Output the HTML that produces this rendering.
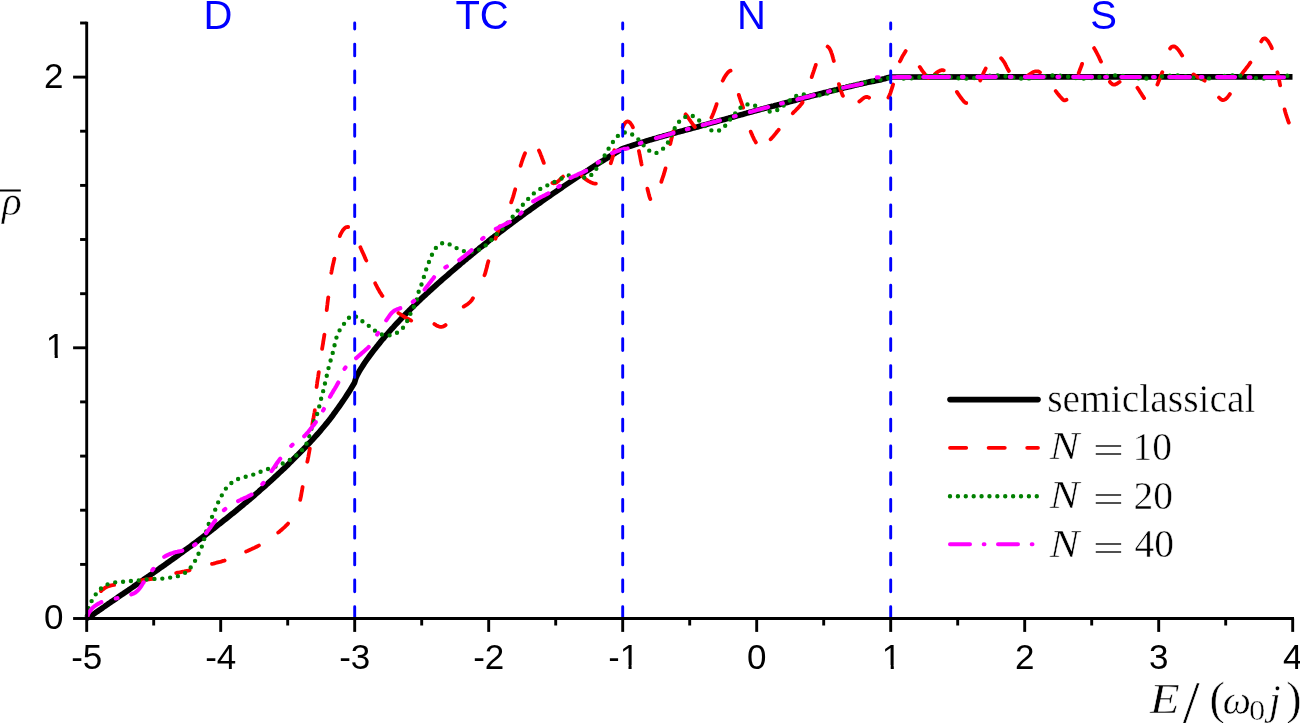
<!DOCTYPE html>
<html><head><meta charset="utf-8"><title>plot</title>
<style>html,body{margin:0;padding:0;background:#fff;width:1300px;height:723px;overflow:hidden}svg{display:block}</style>
</head><body>
<svg width="1300" height="723" viewBox="0 0 1300 723">
<rect width="1300" height="723" fill="#fff"/>
<path d="M86.6 618.4L88.1 617.5L89.6 616.7L91.1 615.8L92.6 614.9L94.1 613.8L95.6 612.7L97.1 611.7L98.6 610.6L100.1 609.6L101.6 608.6L103.1 607.5L104.6 606.5L106.1 605.4L107.6 604.4L109 603.4L110.5 602.4L112 601.3L113.5 600.3L115 599.3L116.5 598.3L118 597.2L119.5 596.2L121 595.2L122.5 594.2L124 593.1L125.5 592.1L127 591.1L128.5 590.1L130 589L131.5 588L133 587L134.5 585.9L136 584.9L137.5 583.9L139 582.9L140.5 581.8L142 580.8L143.5 579.7L145 578.7L146.5 577.7L148 576.6L149.5 575.6L151 574.5L152.5 573.5L153.9 572.4L155.4 571.4L156.9 570.3L158.4 569.3L159.9 568.2L161.4 567.2L162.9 566.1L164.4 565.1L165.9 564L167.4 562.9L168.9 561.9L170.4 560.8L171.9 559.7L173.4 558.6L174.9 557.6L176.4 556.5L177.9 555.4L179.4 554.3L180.9 553.2L182.4 552.1L183.9 551L185.4 549.9L186.9 548.9L188.4 547.8L189.9 546.7L191.4 545.6L192.9 544.4L194.4 543.3L195.9 542.2L197.4 541.1L198.8 540L200.3 538.9L201.8 537.7L203.3 536.6L204.8 535.4L206.3 534.2L207.8 533.1L209.3 531.9L210.8 530.7L212.3 529.6L213.8 528.4L215.3 527.2L216.8 526L218.3 524.8L219.8 523.7L221.3 522.5L222.8 521.3L224.3 520.1L225.8 518.9L227.3 517.7L228.8 516.5L230.3 515.3L231.8 514.1L233.3 512.9L234.8 511.7L236.3 510.5L237.8 509.2L239.3 508L240.8 506.8L242.3 505.6L243.7 504.3L245.2 503.1L246.7 501.9L248.2 500.6L249.7 499.4L251.2 498.1L252.7 496.8L254.2 495.5L255.7 494.2L257.2 492.9L258.7 491.6L260.2 490.2L261.7 488.9L263.2 487.6L264.7 486.3L266.2 484.9L267.7 483.6L269.2 482.2L270.7 480.8L272.2 479.5L273.7 478.1L275.2 476.7L276.7 475.3L278.2 473.9L279.7 472.5L281.2 471.1L282.7 469.7L284.2 468.3L285.7 466.9L287.2 465.5L288.6 464L290.1 462.5L291.6 461.1L293.1 459.6L294.6 458.1L296.1 456.6L297.6 455.1L299.1 453.5L300.6 452L302.1 450.5L303.6 449L305.1 447.4L306.6 445.9L308.1 444.3L309.6 442.7L311.1 441.1L312.6 439.5L314.1 437.9L315.6 436.2L317.1 434.5L318.6 432.8L320.1 431.1L321.6 429.3L323.1 427.5L324.6 425.7L326.1 423.9L327.6 422.1L329.1 420.2L330.6 418.3L332.1 416.3L333.5 414.3L335 412.3L336.5 410.2L338 408.1L339.5 406L341 403.9L342.5 401.7L344 399.5L345.5 397.2L347 394.9L348.5 392.6L350 390.2L351.5 387.8L353 385.3L354.5 382.8L356 377.7L357.5 374.5L359 371.8L360.5 369.3L362 366.9L363.5 364.6L365 362.3L366.5 360.2L368 358.1L369.5 356L371 354L372.5 352L374 350.1L375.5 348.2L377 346.3L378.5 344.4L380 342.6L381.4 340.8L382.9 339L384.4 337.3L385.9 335.5L387.4 333.8L388.9 332.1L390.4 330.4L391.9 328.7L393.4 327.1L394.9 325.4L396.4 323.8L397.9 322.2L399.4 320.6L400.9 319L402.4 317.4L403.9 315.9L405.4 314.3L406.9 312.8L408.4 311.3L409.9 309.7L411.4 308.2L412.9 306.8L414.4 305.3L415.9 303.8L417.4 302.4L418.9 301L420.4 299.6L421.9 298.1L423.4 296.7L424.9 295.3L426.4 293.9L427.9 292.6L429.4 291.2L430.9 289.8L432.4 288.5L433.9 287.1L435.3 285.8L436.8 284.5L438.3 283.1L439.8 281.8L441.3 280.5L442.8 279.2L444.3 277.9L445.8 276.6L447.3 275.3L448.8 274L450.3 272.7L451.8 271.4L453.3 270.1L454.8 268.8L456.3 267.5L457.8 266.3L459.3 265L460.8 263.7L462.3 262.4L463.8 261.2L465.3 259.9L466.8 258.7L468.3 257.4L469.8 256.2L471.3 255L472.8 253.7L474.3 252.5L475.8 251.3L477.3 250.1L478.8 248.8L480.3 247.6L481.8 246.4L483.3 245.2L484.8 244L486.3 242.9L487.8 241.7L489.2 240.5L490.7 239.3L492.2 238.1L493.7 237L495.2 235.8L496.7 234.7L498.2 233.5L499.7 232.3L501.2 231.2L502.7 230.1L504.2 228.9L505.7 227.8L507.2 226.6L508.7 225.5L510.2 224.4L511.7 223.3L513.2 222.1L514.7 221L516.2 219.9L517.7 218.8L519.2 217.7L520.7 216.6L522.2 215.5L523.7 214.4L525.2 213.3L526.7 212.2L528.2 211.2L529.7 210.1L531.2 209L532.7 207.9L534.2 206.9L535.7 205.8L537.2 204.7L538.7 203.7L540.2 202.6L541.7 201.5L543.1 200.5L544.6 199.4L546.1 198.4L547.6 197.3L549.1 196.3L550.6 195.3L552.1 194.2L553.6 193.2L555.1 192.2L556.6 191.1L558.1 190.1L559.6 189.1L561.1 188.1L562.6 187L564.1 186L565.6 185L567.1 184L568.6 183L570.1 182L571.6 181L573.1 180L574.6 179L576.1 178L577.6 177L579.1 176L580.6 175L582.1 174L583.6 173L585.1 172L586.6 171L588.1 170.1L589.6 169.1L591.1 168.1L592.6 167.1L594.1 166.2L595.6 165.3L597 164.3L598.5 163.4L600 162.4L601.5 161.5L603 160.6L604.5 159.6L606 158.7L607.5 157.8L609 156.8L610.5 155.9L612 155L613.5 154.1L615 153.2L616.5 152.2L618 151.3L619.5 150.4L621 149.5L622.5 148.6L624 148.1L625.5 147.6L627 147.1L628.5 146.6L630 146.2L631.5 145.7L633 145.2L634.5 144.7L636 144.3L637.5 143.8L639 143.3L640.5 142.9L642 142.4L643.5 141.9L645 141.5L646.5 141L648 140.6L649.4 140.1L650.9 139.7L652.4 139.3L653.9 138.8L655.4 138.4L656.9 138L658.4 137.5L659.9 137.1L661.4 136.7L662.9 136.3L664.4 135.8L665.9 135.4L667.4 135L668.9 134.6L670.4 134.2L671.9 133.8L673.4 133.3L674.9 132.9L676.4 132.5L677.9 132.1L679.4 131.7L680.9 131.3L682.4 130.9L683.9 130.5L685.4 130.1L686.9 129.7L688.4 129.3L689.9 128.9L691.4 128.5L692.9 128.1L694.4 127.7L695.9 127.3L697.4 126.9L698.9 126.5L700.4 126.1L701.9 125.6L703.3 125.2L704.8 124.8L706.3 124.4L707.8 124L709.3 123.6L710.8 123.1L712.3 122.7L713.8 122.3L715.3 121.9L716.8 121.5L718.3 121.1L719.8 120.6L721.3 120.2L722.8 119.8L724.3 119.4L725.8 119L727.3 118.6L728.8 118.1L730.3 117.7L731.8 117.3L733.3 116.9L734.8 116.5L736.3 116.1L737.8 115.6L739.3 115.2L740.8 114.8L742.3 114.4L743.8 114L745.3 113.6L746.8 113.1L748.3 112.7L749.8 112.3L751.3 111.9L752.8 111.5L754.3 111.1L755.8 110.7L757.2 110.3L758.7 109.9L760.2 109.5L761.7 109.1L763.2 108.7L764.7 108.3L766.2 107.9L767.7 107.5L769.2 107.1L770.7 106.7L772.2 106.3L773.7 106L775.2 105.6L776.7 105.2L778.2 104.8L779.7 104.4L781.2 104L782.7 103.6L784.2 103.2L785.7 102.8L787.2 102.4L788.7 102L790.2 101.6L791.7 101.2L793.2 100.8L794.7 100.4L796.2 100L797.7 99.6L799.2 99.2L800.7 98.8L802.2 98.4L803.7 98L805.2 97.6L806.7 97.3L808.2 96.9L809.7 96.5L811.1 96.1L812.6 95.7L814.1 95.3L815.6 94.9L817.1 94.6L818.6 94.2L820.1 93.8L821.6 93.4L823.1 93L824.6 92.6L826.1 92.3L827.6 91.9L829.1 91.5L830.6 91.1L832.1 90.8L833.6 90.4L835.1 90L836.6 89.7L838.1 89.3L839.6 88.9L841.1 88.6L842.6 88.2L844.1 87.8L845.6 87.5L847.1 87.1L848.6 86.8L850.1 86.4L851.6 86.1L853.1 85.7L854.6 85.3L856.1 85L857.6 84.6L859.1 84.3L860.6 83.9L862.1 83.6L863.6 83.3L865 82.9L866.5 82.6L868 82.2L869.5 81.9L871 81.6L872.5 81.3L874 81.1L875.5 80.8L877 80.5L878.5 80.2L880 80L881.5 79.5L883 79.1L884.5 78.7L886 78.2L887.5 77.8L889 77.4L890.5 77L1292.5 76.8" fill="none" stroke="#000" stroke-width="5.7" stroke-linejoin="round"/>
<path d="M87.3 616.7L87.7 615.4L88 614.3L88.4 613.2L88.7 612.2L89.2 611L89.6 610.1L89.8 609.6M101 591.1L101.7 590.4L102.6 589.6L103.6 588.9L104.5 588.2L105.4 587.6L106.4 587L107.5 586.6L108.5 586.2L109.5 585.9L110.5 585.6L111.4 585.3L112.6 585.1L113.8 584.9L114.2 584.9M139.3 580.8L140.5 580.6L141.8 580.3L142.9 580.1L144.1 579.9L145.2 579.7L146.3 579.6L147.5 579.4L148.8 579.3L150 579.1L151.3 579L152.5 578.8L152.5 578.8M176.2 573L177.4 572.7L178.5 572.5L179.6 572.3L180.8 572.1L181.9 571.8L183.1 571.6L184.3 571.4L185.6 571.1L186.8 570.8L188 570.6L189.3 570.3L189.5 570.2M212 563.9L213.4 563.6L214.5 563.3L215.6 563L216.7 562.7L217.8 562.4L218.9 562.1L220 561.9L221.1 561.6L222.2 561.2L223.3 560.9L224.5 560.6L224.6 560.5M246.1 551.5L247.4 551L248.5 550.5L249.6 550L250.7 549.5L251.7 549.1L252.8 548.6L253.9 548.1L254.9 547.6L256 547.1L257 546.5L258.1 546L258.9 545.5M278.2 532.6L279 532L280 531.1L281 530.3L281.9 529.5L282.8 528.7L283.7 527.9L284.6 527.1L285.5 526.2L286.3 525.4L287.1 524.6L287.9 523.8L288.1 523.5M300.2 499.9L300.4 498.9L300.6 497.8L300.9 496.7L301.1 495.6L301.3 494.4L301.5 493.2L301.7 492L302 490.7L302.2 489.5L302.4 488.2L302.6 487M307.3 461.7L307.6 460.6L307.8 459.4L308 458.3L308.3 457.1L308.5 456L308.7 454.8L308.9 453.7L309.1 452.6L309.3 451.5L309.5 450.3L309.7 449.2L309.8 448.7M312.3 424.6L312.5 423.3L312.7 422.1L312.9 420.9L313.1 419.8L313.3 418.6L313.6 417.4L313.8 416.2L314 415L314.2 413.8L314.5 412.6L314.7 411.4L314.8 410.3L314.8 410.2M316.6 387L316.8 385.8L316.9 384.7L317.1 383.5L317.2 382.3L317.4 381.2L317.6 380L317.8 378.8L318 377.6L318.2 376.5L318.3 375.3L318.5 374.1L318.7 372.9L318.8 372.1M322.1 348.9L322.3 347.6L322.5 346.5L322.7 345.3L322.9 344.2L323.1 343.1L323.2 341.9L323.4 340.8L323.6 339.7L323.8 338.5L324 337.3L324.2 336.2L324.3 335L324.4 334.8M326.7 310.2L326.8 309.1L327 307.9L327.1 306.8L327.2 305.7L327.4 304.5L327.5 303.4L327.6 302.3L327.8 301.2L327.9 300L328.1 298.9L328.2 297.6L328.3 297.4M331.3 272.8L331.5 271.8L331.7 270.6L332 269.4L332.2 268.3L332.4 267.1L332.7 266L332.9 264.8L333.2 263.7L333.5 262.6L333.7 261.4L334 260.2L334.3 259.1L334.4 258.6M339.8 236.1L340.2 235L340.8 233.7L341.4 232.7L341.9 231.8L342.6 230.7L343.3 229.7L344 228.9L344.7 228.2L345.6 227.5L346.6 227.1L347.8 227L348.2 227M360.4 247.3L360.9 248.5L361.4 249.5L361.8 250.5L362.3 251.6L362.8 252.7L363.3 253.8L363.8 254.9L364.3 256L364.8 257.2L365.3 258.4L365.8 259.5L366.3 260.5M375.2 283.3L375.8 284.6L376.4 285.7L376.9 286.7L377.5 287.8L378 288.8L378.6 289.8L379.2 290.8L379.7 291.8L380.4 292.8L381 293.8L381.6 294.8L382.3 295.8L382.4 295.9M398.4 312.9L399.2 313.5L400.3 314.2L401.4 315L402.5 315.7L403.7 316.4L404.8 317.1L405.9 317.7L407 318.3L408.1 318.9L409.1 319.5L410.1 320L411 320.5L411.2 320.6M434.4 324.1L435.4 324.7L436.3 325.3L437.3 325.9L438.4 326.3L439.4 326.6L440.4 326.8L441.5 326.8L442.5 326.6L443.6 326.3L444.6 325.8L445.5 325.2L445.6 325.1M463.7 306.6L464.6 306L465.5 305.5L466.4 304.9L467.4 304.3L468.3 303.6L469.3 302.7L470.3 301.8L471 301L471.7 300.2L472.3 299.2L473 298.2M484.5 275.2L484.9 274.1L485.3 273L485.6 271.8L485.9 270.7L486.2 269.6L486.5 268.5L486.8 267.4L487.1 266.3L487.3 265.2L487.6 264.1L487.9 263L488.2 261.8L488.4 261.3M495.5 238.7L495.8 237.7L496.2 236.6L496.5 235.5L496.9 234.4L497.2 233.4L497.6 232.3L498 231.3L498.4 230.2L498.8 229.1L499.2 228L499.7 226.8L499.8 226.5M511.2 202.4L511.5 201.4L512 200.3L512.3 199.1L512.7 198L513.1 196.9L513.4 195.9L513.7 194.8L514 193.7L514.3 192.6L514.6 191.4L515 190.3L515.2 189.3M520.6 165.8L520.9 164.7L521.3 163.5L521.7 162.2L522.1 161L522.5 159.8L522.9 158.7L523.3 157.6L523.7 156.5L524.1 155.5L524.5 154.5L524.9 153.5L525 153.3M538.9 150.4L539.3 151.4L539.8 152.4L540.3 153.5L540.7 154.7L541.2 155.9L541.7 157.1L542.1 158.4L542.6 159.6L543 160.8L543.5 162L543.8 162.9M552.4 182.9L553.5 183.3L554.6 183.2L555.7 182.9L556.8 182.3L557.7 181.6L558.6 180.8L559.6 179.9L560.5 179L561.5 178L562.4 177.1L563 176.6M581.8 175.6L582.7 176.5L583.6 177.4L584.5 178.3L585.4 179L586.3 179.7L587.4 180.4L588.5 181.1L589.6 181.7L590.7 182.3L591.7 182.7L592.7 183.1L593.7 183.4L594.9 183.6L595.9 183.6M610.8 163.2L611.1 162.2L611.4 161.2L611.8 160.1L612.1 159L612.4 157.9L612.7 156.7L613 155.6L613.3 154.4L613.6 153.2L613.9 152L614.2 150.8L614.4 150.2M622.7 127.3L623.4 125.9L624.1 124.6L624.7 123.5L625.4 122.6L626.3 121.8L627.3 121.4L628.5 121.6L629.5 122.3L630.3 123L631 124L631.8 125.1L632.5 126.4L632.9 127.3M638.9 151L639.2 152.3L639.4 153.5L639.6 154.6L639.9 155.7L640.1 156.8L640.3 157.9L640.5 159L640.7 160.2L640.9 161.3L641.2 162.4L641.4 163.6L641.6 164.5M647.4 188.7L647.7 190.1L648.1 191.4L648.4 192.7L648.7 193.9L649 195.1L649.3 196.1L649.6 197.1L650 198.3L650.3 199M661.3 181.9L661.6 180.8L662 179.8L662.3 178.7L662.7 177.6L663.1 176.5L663.5 175.3L663.9 174.1L664.2 172.9L664.6 171.6L665 170.4L665.3 169.1L665.5 168.4M670.2 144.1L670.5 143L670.7 141.8L671 140.7L671.3 139.5L671.5 138.4L671.8 137.4L672.1 136.3L672.4 135.2L672.7 134.1L673 133L673.3 131.8L673.5 131.3M685.6 114.3L686.4 115.2L687.1 116.2L687.8 117.2L688.6 118.3L689.4 119.5L690.2 120.6L691 121.8L691.8 122.9L692.6 124L693.3 125L694.1 126L694.8 126.9L694.9 127.1M711.4 117.6L712 116.4L712.5 115.3L712.9 114.3L713.4 113.2L713.8 112.1L714.2 111L714.7 109.8L715.1 108.6L715.5 107.5L715.9 106.3L716.3 105.1L716.6 104.1M722.7 80.7L723.2 79.8L723.8 78.5L724.5 77.3L725.2 76.1L725.9 75.1L726.6 74.1L727.2 73.3L728.1 72.3L728.8 71.6L729.9 70.9L730.6 70.7M738.8 94.9L739.2 96.2L739.6 97.3L739.9 98.4L740.3 99.4L740.6 100.5L741 101.5L741.4 102.6L741.8 103.7L742.2 104.8L742.5 105.9L742.9 107.1L743.1 107.7M750.7 131.6L751.2 132.9L751.8 134.1L752.3 135.4L752.8 136.5L753.4 137.7L753.9 138.8L754.4 139.8L754.9 140.7L755.6 141.9L755.9 142.4M770.6 139.3L771.4 138.4L772.2 137.5L772.9 136.8L773.6 136L774.3 135.1L775.1 134.2L775.8 133.3L776.6 132.3L777.4 131.3L778.3 130.3L778.7 129.8M792.8 113.2L793.5 112.4L794.3 111.6L795.2 110.8L796 110L796.8 109.2L797.6 108.4L798.4 107.5L799.2 106.7L800 105.7L800.8 104.8L801.6 103.8L802.3 102.8L802.6 102.2M811.7 77.1L812.1 76L812.5 74.7L812.9 73.5L813.3 72.4L813.7 71.2L814.1 70.1L814.4 69L814.8 68L815.1 66.9L815.5 65.9L815.8 64.9M827.6 46.6L828.4 47.2L829.2 48.1L830 49.4L830.5 50.4L831 51.6L831.3 52.6L831.7 53.6L832.1 54.7L832.4 55.9L832.8 57.2L833.1 58.4L833.5 59.8L833.8 61M838.9 84.1L839.2 85.2L839.6 86.4L840 87.7L840.3 88.9L840.7 90.1L841.1 91.2L841.5 92.3L841.9 93.4L842.3 94.5L842.7 95.5L842.9 95.8M859.3 101.6L860.3 100.8L861.3 99.9L862.3 99.1L863.2 98.3L864.2 97.7L865.3 97.1L866.4 96.9L867.4 97L868.7 97.5L869.1 97.7M888.4 97.6L889 96.5L889.4 95.5L889.9 94.4L890.3 93.3L890.7 92.1L891.1 90.9L891.5 89.7L891.9 88.4L892.3 87.2L892.7 85.9L893 84.6L893.1 84.4M899.9 61.4L900.5 60.3L901.1 59.1L901.7 57.9L902.3 56.7L902.9 55.6L903.6 54.5L904.2 53.5L904.8 52.5L905.3 51.6L905.7 51M919.7 66.9L920.3 67.7L921 68.8L921.7 70L922.5 71L923.3 72.1L924 73.1L924.8 74L925.4 74.9L926.3 75.9L927.1 76.9L928 77.7L928.3 78M935 73.9L935.9 73.2L937 72.4L938 71.7L939.1 71.1L940 70.6L941.3 70.2L942.6 70.1L943.7 70.3L943.8 70.3M956.9 91.9L957.7 93.1L958.4 94.2L959.2 95.3L960 96.4L960.7 97.5L961.5 98.5L962.2 99.4L962.9 100.3L963.7 101.2L964.3 101.9L965.2 102.7L966.1 103L966.3 103M980.2 80.5L980.8 79.2L981.3 78.1L981.8 76.9L982.3 75.8L982.8 74.7L983.3 73.5L983.8 72.4L984.3 71.3L984.8 70.3L985.3 69.3L985.7 68.5M1001.1 58.2L1001.9 59.1L1002.6 60L1003.4 61.1L1004 62L1004.7 63.1L1005.2 64L1005.7 65.1L1006.3 66.2L1006.8 67.3L1007.4 68.4L1008 69.5L1008.6 70.6L1008.9 71M1027.8 75.5L1028.9 74.8L1030 74.1L1031.1 73.4L1032.1 72.7L1033.2 72.1L1034.2 71.7L1035.5 71.3L1036.8 71.3L1038 71.4L1039.1 71.8L1040 72.3M1055.7 91L1056.5 92.1L1057.3 93.2L1058.2 94.2L1059 95.2L1059.8 96.2L1060.6 97.1L1061.3 97.9L1062.2 98.8L1063.2 99.8L1064.2 100.4L1065.2 100.3L1066.2 99.9L1066.5 99.8M1078.7 73L1079.2 71.7L1079.6 70.6L1080 69.5L1080.4 68.5L1080.8 67.5L1081.2 66.6L1081.5 65.6L1081.9 64.5L1082.1 63.9M1094.1 48.1L1094.6 49L1095.2 49.9L1095.7 51L1096.3 52L1096.9 53.2L1097.5 54.3L1098.1 55.5L1098.7 56.7L1099.3 57.9L1099.8 59.1L1100.4 60.3L1100.9 61.5L1101 61.6M1109.9 81.8L1110.7 82.9L1111.6 83.7L1112.6 84.3L1113.9 84.6L1115.2 84.5L1116.2 84.1L1117.3 83.5L1118.4 82.7L1119.5 82L1119.6 81.9M1137.4 87.8L1138 88.7L1138.7 89.7L1139.4 90.8L1140.1 91.9L1140.8 93L1141.5 94.1L1142.2 95.2L1142.8 96.2L1143.5 97.2L1144.1 98.1M1157.4 84.5L1157.9 83.3L1158.3 82.3L1158.7 81.2L1159.2 80.1L1159.6 79.1L1160 78L1160.4 77L1160.9 75.9L1161.3 74.8L1161.7 73.6L1162.2 72.4L1162.3 72.2M1170.1 48.5L1170.8 47.6L1171.8 46.8L1172.8 46.4L1173.8 46.4L1174.9 46.7L1176 47.3L1176.8 48.1L1177.5 48.8L1178.2 49.7L1179 50.7L1179.7 51.7L1180.4 52.9L1181.2 54L1181.9 55.2L1182.2 55.6M1193.5 74.4L1194.5 75.1L1195.5 75.8L1196.5 76.4L1197.6 76.9L1198.6 77.4L1199.7 78L1200.8 78.5L1201.9 79L1202.9 79.6L1203.9 80.2L1204.7 80.7M1219 97.5L1220 98.5L1220.9 99.3L1221.8 99.8L1222.9 100.1L1224.2 99.9L1225.2 99.4L1226.2 98.6L1227 97.8L1227.8 96.9L1228.6 95.9L1229.5 94.7L1229.9 94.1M1241.8 74.1L1242.5 73.1L1243.2 72.1L1243.9 71.2L1244.7 70.3L1245.4 69.3L1246.1 68.4L1246.8 67.5L1247.5 66.6L1248.3 65.6L1249 64.7L1249.6 63.7L1250.3 62.7L1250.4 62.6M1261.2 41.4L1261.9 40.3L1262.7 39.2L1263.5 38.5L1264.6 38.3L1265.5 38.6L1266.5 39.4L1267.3 40.3L1268 41.1L1268.7 42.1L1269.3 43.2L1270 44.3L1270.7 45.6L1271.3 46.9L1271.9 48.2L1271.9 48.3M1277.4 72.3L1277.6 73.3L1277.9 74.5L1278.1 75.6L1278.4 76.8L1278.6 77.9L1278.8 79L1279.1 80.1L1279.3 81.2L1279.5 82.3L1279.8 83.5L1280 84.7L1280.1 85.3M1284.6 109.4L1284.9 110.5L1285.2 111.8L1285.6 113.1L1286 114.4L1286.4 115.6L1286.8 116.8L1287.2 118L1287.6 119.2L1287.9 120.3L1288.3 121.3L1288.6 122.3L1288.8 122.6" fill="none" stroke="#f00" stroke-width="3.8" stroke-linecap="round" stroke-linejoin="round"/>
<path d="M86.8 616L87 614.9L87.1 614.1L87.3 613.1L87.5 612.1L87.7 611.1L88 610L88.2 609.2L88.4 608.4L88.7 607.6L88.9 606.8L89.2 606L89.5 605.2L90 604.2L90.5 603.1L91 602.1L91.6 601.1L92.2 600L92.6 599.3L93 598.6L93.6 597.6L94.2 596.7L94.9 595.7L95.5 594.7L96.2 593.7L96.7 593L97.2 592.4L97.7 591.8L98.5 590.9L99.3 590.1L99.9 589.5L100.5 588.9L101.1 588.4L101.7 587.8L102.3 587.3L103 586.8L103.9 586.1L104.9 585.5L106 585L107.1 584.5L108.2 584.1L109.3 583.7L110.4 583.4L111.5 583.1L112.6 582.8L113.8 582.6L114.9 582.4L116.1 582.3L117.2 582.2L118.4 582.2L119.5 582.1L120.7 582L121.8 581.8L123 581.7L124.1 581.6L125.3 581.5L126.5 581.3L127.6 581.2L128.8 581.1L129.9 581.1L131.1 581L132.3 580.9L133.5 580.9L134.6 580.8L135.8 580.7L137 580.6L138.1 580.5L139.3 580.3L140.5 580.2L141.6 580L142.8 579.9L143.6 579.8L144.8 579.7L145.9 579.5L147.1 579.4L148.3 579.3L149.5 579.2L150.6 579.1L151.8 579L153 578.9L154.1 578.9L155.3 578.9L156.5 578.9L157.7 578.9L158.8 578.9L159.9 578.8L161.1 578.7L162.2 578.6L163.4 578.4L164.5 578.3L165.6 578.1L166.7 577.9L167.9 577.8L169 577.7L170.1 577.6L171.2 577.5L172.4 577.3L173.5 577.2L174.7 576.9L175.8 576.7L176.9 576.4L178 576.1L179.2 575.7L180.3 575.3L181.3 574.9L182.4 574.4L183.4 573.9L184.4 573.3L185.4 572.6L186.3 571.9L187.2 571.1L187.8 570.6L188.6 569.8L189.4 568.9L190.2 568L190.7 567.4L191.2 566.7L191.7 566.1L192.2 565.4L192.9 564.4L193.5 563.5L193.9 562.8L194.5 561.8L195.1 560.8L195.6 559.8L196.1 558.8L196.6 557.8L197.1 556.7L197.6 555.7L198.1 554.7L198.6 553.6L199.1 552.6L199.6 551.5L200.1 550.5L200.6 549.4L201 548.4L201.4 547.4L201.8 546.6L202.1 545.6L202.5 544.6L202.8 543.8L203.1 542.9L203.4 541.9L203.7 541L204 540L204.3 538.9L204.6 537.7L204.8 536.9L205 536.1L205.2 535.3L205.4 534.4L205.7 533.6L205.9 532.7L206.1 531.9L206.3 531.1L206.6 530.3L206.9 529.2L207.2 528.1L207.5 527.2L207.8 526.2L208.2 525.4L208.5 524.5L208.8 523.8L209.3 522.7L209.8 521.7L210.2 520.8L210.7 519.9L211.1 518.9L211.4 518.1L211.8 517.4L212.3 516.3L212.8 515.3L213.3 514.3L213.7 513.3L214.2 512.2L214.6 511.1L215.1 510L215.5 508.9L215.9 507.7L216.1 507L216.4 506.2L216.7 505.5L217.2 504.4L217.7 503.4L218.2 502.3L218.7 501.3L219.3 500.3L219.8 499.2L220.3 498.2L220.9 497.2L221.4 496.2L221.9 495.1L222.4 494.1L222.9 493.1L223.5 492.2L224.1 491.2L224.7 490.2L225.4 489.3L226.1 488.3L226.8 487.4L227.5 486.5L228.1 485.9L228.7 485.3L229.5 484.5L230.4 483.8L231 483.3L231.6 482.8L232.3 482.3L233 481.8L233.6 481.3L234.6 480.7L235.6 480.1L236.7 479.5L237.4 479.2L238.2 478.9L239.3 478.5L240.4 478.2L241.6 477.9L242.7 477.6L243.8 477.3L245 477L246.1 476.7L247.3 476.4L248.4 476.2L249.6 475.9L250.7 475.5L251.8 475.1L252.9 474.7L254 474.3L255.1 473.8L256.2 473.4L257.3 472.9L258 472.6L259.1 472.2L260.1 471.9L261 471.5L262 471.2L263 470.8L264.2 470.4L265.1 470.1L266 469.8L266.8 469.5L267.7 469.2L268.7 468.8L269.7 468.5L270.8 468.1L272 467.7L272.7 467.4L273.5 467.2L274.3 466.9L275.1 466.6L275.9 466.3L276.7 466L277.5 465.7L278.3 465.4L279.1 465.1L279.8 464.8L280.6 464.4L281.3 464.1L282.4 463.6L283.4 463.1L284.5 462.6L285.5 462.1L286.6 461.6L287.7 461.1L288.7 460.5L289.7 460L290.8 459.4L291.8 458.8L292.8 458.1L293.7 457.5L294.7 456.8L295.6 456.1L296.5 455.3L297.4 454.6L298.2 453.9L299.1 453.1L299.9 452.3L300.7 451.5L301.5 450.7L302.3 449.8L303.1 448.9L303.8 448L304.3 447.3L304.8 446.6L305.2 445.9L305.7 445.2L306.1 444.5L306.6 443.5L307.1 442.5L307.6 441.4L308 440.3L308.3 439.6L308.5 438.8L308.8 438L309.1 437.2L309.3 436.3L309.6 435.5L309.8 434.7L310.1 433.9L310.3 433L310.5 432.2L310.8 431.4L311 430.6L311.2 429.8L311.4 429L311.7 427.9L312.1 426.8L312.4 425.8L312.7 424.8L313.1 423.7L313.4 422.8L313.8 421.9L314.1 421.1L314.4 420.4L314.9 419.3L315.3 418.4L315.8 417.4L316.2 416.5L316.6 415.5L317 414.4L317.3 413.6L317.6 412.5L317.9 411.4L318.3 410.3L318.5 409.5L318.7 408.7L318.9 407.9L319.1 407L319.3 406.2L319.5 405.4L319.7 404.6L319.9 403.8L320.1 403L320.4 401.8L320.6 400.7L320.9 399.7L321.1 398.8L321.3 397.9L321.6 396.8L321.9 396.1L322.1 395.1L322.4 394.2L322.6 393.4L322.9 392.3L323.2 391L323.4 390.2L323.6 389.3L323.8 388.3L324.1 387.2L324.3 386.1L324.6 385L324.8 384.2L325 383.3L325.2 382.5L325.4 381.7L325.6 380.8L325.8 379.9L326 379.1L326.2 378.2L326.4 377.3L326.6 376.5L326.8 375.6L327 374.7L327.2 373.9L327.4 373.1L327.6 372.2L327.7 371.5L328 370.3L328.3 369.2L328.5 368.2L328.8 367L329.1 366.1L329.3 365.2L329.5 364.4L329.7 363.5L329.9 362.7L330.3 361.6L330.6 360.5L330.9 359.4L331.2 358.4L331.5 357.3L331.8 356.3L332.1 355.2L332.4 354.1L332.7 353L332.9 352.2L333.2 351.1L333.4 350.3L333.6 349.5L333.8 348.7L333.9 347.9L334.1 347.1L334.3 346.2L334.5 345.4L334.7 344.6L334.9 343.8L335.1 342.9L335.2 342.1L335.4 341.3L335.6 340.5L335.9 339.4L336.2 338.3L336.6 337.2L336.9 336.2L337.3 335.1L337.6 334.3L338 333.5L338.3 332.7L338.7 332L339.2 331L339.8 330L340.4 329.1L341 328.2L341.7 327.2L342.4 326.2L343 325.3L343.5 324.6L344 323.9L344.5 323.2L345 322.5L345.6 321.8L346.1 321.1L346.7 320.4L347.2 319.7L347.8 319L348.3 318.4L349.1 317.6L349.9 316.9L350.7 316.3L351.7 315.8L352.5 315.7L353.7 315.7L354.8 316.1L355.6 316.4L356.3 316.8L357 317.2L357.8 317.6L358.7 318.1L359.7 318.8L360.3 319.3L360.9 319.9L361.5 320.4L362.2 321L362.8 321.6L363.6 322.3L364.4 323L365.1 323.5L365.8 324L366.7 324.6L367.6 325.1L368.6 325.7L369.3 326.2L370.1 326.8L371 327.6L371.7 328.1L372.3 328.6L372.9 329.1L373.6 329.7L374.3 330.2L374.9 330.6L375.6 331.1L376.6 331.7L377.6 332.4L378.3 332.8L379.3 333.4L380.4 333.9L381.4 334.4L382.5 334.8L383.6 335.1L384.7 335.3L385.9 335.5L387.1 335.5L388.2 335.5L389.4 335.4L390.5 335.2L391.6 335L392.7 334.7L393.8 334.3L394.9 333.8L395.9 333.3L396.9 332.8L397.9 332.2L398.9 331.5L399.8 330.8L400.8 330L401.4 329.5L401.9 328.9L402.5 328.3L403.2 327.5L403.9 326.6L404.5 325.6L405.1 324.7L405.7 323.7L406.3 322.6L406.9 321.6L407.4 320.6L407.9 319.5L408.3 318.8L408.6 318L408.9 317.3L409.2 316.5L409.7 315.5L410.2 314.4L410.7 313.3L411.2 312.3L411.7 311.3L412.2 310.2L412.7 309.2L413.2 308.2L413.6 307.2L414.1 306.1L414.6 305.1L415 304L415.5 302.9L415.9 301.8L416.4 300.7L416.8 299.6L417.1 298.5L417.3 297.7L417.6 296.6L417.8 295.4L418.1 294.3L418.3 293.2L418.6 292L418.9 290.9L419.3 289.8L419.7 288.7L420.2 287.6L420.6 286.5L421.1 285.4L421.5 284.4L421.9 283.2L422.2 282.1L422.6 281L423 279.9L423.3 278.7L423.5 278L423.8 277.2L424.1 276.1L424.5 275L424.8 273.8L425.1 272.7L425.5 271.6L425.8 270.5L426.2 269.4L426.6 268.3L426.9 267.2L427.3 266.1L427.7 265L428.1 264L428.6 262.9L429 261.8L429.4 260.7L429.8 259.6L430.3 258.6L430.7 257.5L431.2 256.4L431.7 255.3L432.2 254.2L432.7 253.2L433.3 252.1L433.7 251.4L434 250.7L434.5 250L435.1 249L435.8 248L436.5 247.2L437.4 246.4L438 245.8L438.7 245.3L439.4 244.8L440.1 244.3L440.8 243.9L441.5 243.5L442.6 243L443.7 242.8L444.7 242.7L445.8 242.8L446.9 243.1L448 243.6L448.7 243.9L449.5 244.3L450.2 244.7L451.2 245.2L452.3 245.7L453.3 246.2L454.3 246.8L455.3 247.4L456.4 248L457.4 248.5L458.5 249L459.5 249.5L460.6 249.9L461.7 250.4L462.8 250.8L463.9 251.1L465 251.4L466.2 251.6L467 251.8L467.8 251.9L468.6 252L469.4 252.1L470.2 252.1L471 252.1L472.2 252.1L473.3 252L474.5 251.7L475.6 251.4L476.7 250.9L477.7 250.4L478.7 249.8L479.7 249.2L480.7 248.6L481.8 248L482.8 247.4L483.8 246.7L484.7 246L485.7 245.3L486.6 244.6L487.5 243.8L488.3 243L489.1 242.2L489.9 241.4L490.7 240.5L491.5 239.7L492.3 238.9L493.1 238L493.8 237.2L494.6 236.4L495.4 235.5L496.2 234.7L497 233.8L497.8 233L498.6 232.2L499.5 231.5L500.4 230.7L501.3 229.9L502.1 229.1L502.9 228.3L503.7 227.4L504.5 226.6L505.3 225.7L506 224.8L506.7 223.9L507.4 223L508.2 222.1L508.9 221.2L509.6 220.3L510.4 219.4L511.2 218.5L511.9 217.6L512.6 216.8L513.4 215.9L514.1 215L514.6 214.3L515.2 213.5L515.7 212.8L516.2 212.1L516.9 211.4L517.8 210.4L518.5 209.6L519.1 209L519.7 208.3L520.4 207.5L521.1 206.7L521.8 205.9L522.6 205L523.2 204.3L523.7 203.7L524.3 203.1L524.9 202.4L525.5 201.8L526 201.1L526.7 200.5L527.3 199.8L527.9 199.2L528.5 198.5L529.1 197.9L529.7 197.3L530.3 196.7L530.9 196.1L531.5 195.5L532.1 194.9L532.7 194.4L533.6 193.6L534.4 192.8L535.4 192.1L536.1 191.6L536.8 191.1L537.5 190.6L538.3 190.1L539.1 189.6L539.8 189.2L540.6 188.7L541.4 188.3L542.2 187.9L542.9 187.5L543.7 187.1L544.4 186.7L545.2 186.4L545.9 186L547 185.5L548 185.1L549 184.6L549.9 184.2L550.7 183.8L551.5 183.4L552.4 182.9L553.4 182.4L554.2 182L555 181.7L555.9 181.3L556.9 180.9L557.8 180.4L558.8 179.9L559.9 179.4L560.9 178.8L561.7 178.5L562.7 178L563.8 177.5L564.8 177L565.9 176.6L566.9 176.1L568 175.7L569.1 175.3L570.2 175.1L571.3 175L572.4 175L573.6 175.2L574.7 175.4L575.5 175.6L576.3 175.8L577.1 176L578.2 176.2L579.3 176.4L580.5 176.7L581.4 176.8L582.2 177L583 177.2L583.8 177.4L584.9 177.6L586 177.7L587.1 177.5L588.1 177.1L589.2 176.6L590.1 175.9L590.8 175.3L591.4 174.8L592 174.2L592.6 173.6L593.2 173L593.9 172.2L594.6 171.3L595.3 170.3L596 169.4L596.6 168.4L597.2 167.4L597.9 166.4L598.5 165.4L599.2 164.5L599.9 163.5L600.5 162.5L601.2 161.5L601.8 160.5L602.4 159.5L603 158.5L603.6 157.5L604.2 156.4L604.7 155.4L605.3 154.4L605.8 153.3L606.4 152.3L607 151.3L607.6 150.3L608.2 149.3L608.8 148.3L609.4 147.3L610 146.3L610.6 145.4L611.1 144.7L611.7 143.7L612.4 142.8L613.1 141.8L613.8 140.9L614.5 140L615.2 139.1L616 138.2L616.7 137.3L617.4 136.4L618.2 135.5L619.1 134.7L620 134.1L621 133.6L622.1 133.1L622.9 132.9L623.7 132.7L624.5 132.6L625.4 132.4L626.2 132.4L627.4 132.4L628.5 132.6L629.6 132.9L630.6 133.4L631.3 133.9L632 134.3L632.7 134.8L633.3 135.3L634 135.7L634.9 136.4L635.8 137.1L636.6 137.8L637.4 138.5L638.3 139.3L639.1 140.1L639.7 140.7L640.5 141.5L641.2 142.4L642 143.3L642.5 144L643 144.6L643.6 145.2L644.1 145.9L644.6 146.5L645.2 147.1L646 147.9L646.9 148.8L647.6 149.3L648.3 149.9L648.9 150.4L649.6 150.9L650.3 151.4L651 151.8L652 152.4L653 152.8L654 153.1L655.1 153.1L656.2 153L657.2 152.6L658.3 152.1L659 151.6L660 151L660.9 150.4L661.9 149.7L662.5 149.1L663.1 148.6L663.8 148L664.4 147.4L665 146.8L665.5 146.2L666.2 145.3L666.9 144.4L667.4 143.5L667.9 142.6L668.3 141.6L668.8 140.5L669.2 139.7L669.7 138.8L670 138L670.5 137.1L671 136.1L671.3 135.3L671.7 134.6L672 133.8L672.4 133L672.8 132.2L673.2 131.4L673.5 130.6L673.9 129.9L674.3 129.1L674.7 128.3L675.1 127.6L675.6 126.6L676.2 125.7L676.8 124.7L677.3 123.9L677.9 123.1L678.4 122.5L679.2 121.6L680 120.8L680.8 120.1L681.6 119.5L682.5 118.8L683.2 118.3L683.9 117.8L684.6 117.4L685.3 116.9L686 116.5L686.7 116.2L687.8 115.8L688.9 115.5L690 115.4L691 115.4L692 115.6L692.9 116L694 116.5L694.8 117L695.7 117.7L696.4 118.2L697.2 118.8L698 119.5L698.9 120.3L699.5 120.8L700.1 121.4L700.7 122L701.4 122.6L702 123.2L702.7 123.9L703.3 124.5L704 125.1L704.6 125.7L705.2 126.2L705.8 126.8L706.7 127.5L707.5 128.1L708.5 128.8L709.3 129.3L710.2 129.8L711 130.2L711.7 130.5L712.8 130.8L713.9 131L714.9 131.2L715.9 131.2L717.1 131.1L718.2 130.8L719.4 130.4L720.1 130L720.8 129.6L721.5 129.2L722.2 128.7L723.1 128.1L723.8 127.4L724.4 126.6L725.1 125.8L725.8 124.9L726.3 124.2L727 123.4L727.7 122.5L728.3 121.8L729 121L729.7 120.1L730.2 119.4L730.8 118.8L731.3 118.1L731.9 117.5L732.4 116.8L733 116.1L733.6 115.4L734.1 114.7L734.7 114L735.3 113.4L735.8 112.8L736.3 112.2L737.1 111.3L737.8 110.6L738.6 109.7L739.3 109L739.9 108.3L740.5 107.7L741.4 107L742.2 106.3L743 105.7L743.9 105.3L744.8 104.9L745.9 104.6L747.1 104.4L747.9 104.4L748.8 104.4L749.6 104.4L750.4 104.5L751.2 104.6L752.3 104.8L753.4 105.1L754.5 105.5L755.5 106L756.5 106.5L757.5 107.1L758.6 107.6L759.3 108L760.3 108.5L761.4 109L762.4 109.5L763.2 109.8L763.9 110.2L765 110.6L766 111L767.1 111.3L767.9 111.5L768.7 111.6L769.5 111.6L770.7 111.7L771.9 111.6L773 111.5L774.1 111.3L775.2 111L776.3 110.5L777.3 110L778.3 109.3L779 108.9L779.6 108.4L780.3 108L781 107.5L781.9 106.9L782.8 106.2L783.7 105.5L784.6 104.8L785.5 104L786.4 103.3L787.3 102.5L788.2 101.8L789.1 101L790 100.3L790.9 99.5L791.7 98.7L792.7 98L793.6 97.4L794.5 96.8L795.6 96.3L796.7 95.8L797.8 95.3L798.9 95L800 94.7L801.1 94.5L802.3 94.3L803.4 94.4L804.6 94.5L805.7 94.7L806.5 94.9L807.3 95L808.2 95.1L809 95.2L810.1 95.3L811.3 95.4L812.5 95.4L813.3 95.5L814.1 95.5L815.2 95.5L816.4 95.5L817.5 95.5L818.7 95.4L819.5 95.3L820.6 95.1L821.7 94.9L822.8 94.6L824 94.3L825.1 94L826.2 93.7L827 93.5L827.8 93.2L828.6 93L829.3 92.7L830.1 92.5L831.2 92.1L832.3 91.7L833.1 91.4L834.1 91L835 90.6L836 90.2L837.1 89.7L837.9 89.4L838.8 89.1L839.7 88.8L840.6 88.5L841.5 88.1L842.5 87.8L843.5 87.4L844.6 87L845.4 86.8L846.2 86.5L847.1 86.3L848 86L849 85.8L850 85.5L850.9 85.3L852 85.1L853 84.8L854.2 84.6L855.4 84.3L856.2 84.2L857 84L857.8 83.9L858.6 83.7L859.5 83.5L860.3 83.4L861.2 83.2L862.1 83.1L862.9 82.9L863.7 82.7L864.6 82.6L865.4 82.4L866.2 82.3L867 82.1L868.2 81.9L869.3 81.7L870.4 81.5L871.3 81.3L872.2 81.2L873.1 81L874 80.8L874.9 80.7L875.8 80.5L876.7 80.3L877.6 80.2L878.4 80L879.2 79.9L880.1 79.7L880.9 79.6L882 79.4L883.1 79.2L884.1 79L885 78.8L885.8 78.7L886.9 78.4L888 78.1L888.8 77.8L889.5 77.5L890.5 77.2L891.6 77.2L892.7 77.3L893.8 77.5L894.9 77.7L896 77.9L897 78L898.1 78.2L899.2 78.3L900.3 78.4L901.4 78.5L902.5 78.5L903.6 78.6L904.7 78.6L905.8 78.6L906.9 78.6L908 78.5L909 78.5L910.1 78.4L911.2 78.3L912.3 78.2L913.4 78.1L914.5 77.9L915.6 77.8L916.7 77.6L917.8 77.4L918.9 77.2L920 77.1L921 76.9L922.1 76.7L923.2 76.5L924.3 76.4L925.4 76.2L926.5 76L927.6 75.9L928.7 75.8L929.8 75.7L930.9 75.6L932 75.5L933 75.4L934.1 75.4L935.2 75.4L936.3 75.4L937.4 75.4L938.5 75.5L939.6 75.6L940.7 75.7L941.8 75.8L942.9 75.9L944 76L945 76.2L946.1 76.3L947.2 76.5L948.3 76.7L949.4 76.9L950.5 77.1L951.6 77.2L952.7 77.4L953.8 77.6L954.9 77.8L956 77.9L957 78.1L958.1 78.2L959.2 78.3L960.3 78.4L961.4 78.5L962.5 78.5L963.6 78.6L964.7 78.6L965.8 78.6L966.9 78.6L968 78.5L969 78.5L970.1 78.4L971.2 78.3L972.3 78.2L973.4 78L974.5 77.9L975.6 77.7L976.7 77.6L977.8 77.4L978.9 77.2L980 77L981 76.8L982.1 76.6L983.2 76.5L984.3 76.3L985.4 76.1L986.5 76L987.6 75.9L988.7 75.7L989.8 75.6L990.9 75.5L992 75.5L993 75.4L994.1 75.4L995.2 75.4L996.3 75.4L997.4 75.5L998.5 75.5L999.6 75.6L1000.7 75.7L1001.8 75.8L1002.9 75.9L1004 76.1L1005 76.2L1006.1 76.4L1007.2 76.6L1008.3 76.7L1009.4 76.9L1010.5 77.1L1011.6 77.3L1012.7 77.5L1013.8 77.6L1014.9 77.8L1016 78L1017 78.1L1018.1 78.2L1019.2 78.3L1020.3 78.4L1021.4 78.5L1022.5 78.6L1023.6 78.6L1024.7 78.6L1025.8 78.6L1026.9 78.6L1028 78.5L1029 78.4L1030.1 78.4L1031.2 78.2L1032.3 78.1L1033.4 78L1034.5 77.8L1035.6 77.7L1036.7 77.5L1037.8 77.3L1038.9 77.1L1040 77L1041 76.8L1042.1 76.6L1043.2 76.4L1044.3 76.3L1045.4 76.1L1046.5 76L1047.6 75.8L1048.7 75.7L1049.8 75.6L1050.9 75.5L1052 75.5L1053 75.4L1054.1 75.4L1055.2 75.4L1056.3 75.4L1057.4 75.5L1058.5 75.5L1059.6 75.6L1060.7 75.7L1061.8 75.8L1062.9 76L1064 76.1L1065 76.3L1066.1 76.4L1067.2 76.6L1068.3 76.8L1069.4 77L1070.5 77.2L1071.6 77.3L1072.7 77.5L1073.8 77.7L1074.9 77.8L1076 78L1077 78.1L1078.1 78.3L1079.2 78.4L1080.3 78.4L1081.4 78.5L1082.5 78.6L1083.6 78.6L1084.7 78.6L1085.8 78.6L1086.9 78.6L1088 78.5L1089 78.4L1090.1 78.3L1091.2 78.2L1092.3 78.1L1093.4 77.9L1094.5 77.8L1095.6 77.6L1096.7 77.5L1097.8 77.3L1098.9 77.1L1100 76.9L1101 76.7L1102.1 76.5L1103.2 76.4L1104.3 76.2L1105.4 76.1L1106.5 75.9L1107.6 75.8L1108.7 75.7L1109.8 75.6L1110.9 75.5L1112 75.5L1113 75.4L1114.1 75.4L1115.2 75.4L1116.3 75.4L1117.4 75.5L1118.5 75.6L1119.6 75.6L1120.7 75.7L1121.8 75.9L1122.9 76L1124 76.2L1125 76.3L1126.1 76.5L1127.2 76.7L1128.3 76.8L1129.4 77L1130.5 77.2L1131.6 77.4L1132.7 77.6L1133.8 77.7L1134.9 77.9L1136 78L1137 78.2L1138.1 78.3L1139.2 78.4L1140.3 78.5L1141.4 78.5L1142.5 78.6L1143.6 78.6L1144.7 78.6L1145.8 78.6L1146.9 78.5L1148 78.5L1149 78.4L1150.1 78.3L1151.2 78.2L1152.3 78L1153.4 77.9L1154.5 77.7L1155.6 77.6L1156.7 77.4L1157.8 77.2L1158.9 77L1160 76.9L1161 76.7L1162.1 76.5L1163.2 76.3L1164.3 76.2L1165.4 76L1166.5 75.9L1167.6 75.8L1168.7 75.6L1169.8 75.6L1170.9 75.5L1172 75.4L1173 75.4L1174.1 75.4L1175.2 75.4L1176.3 75.4L1177.4 75.5L1178.5 75.6L1179.6 75.7L1180.7 75.8L1181.8 75.9L1182.9 76L1184 76.2L1185 76.4L1186.1 76.5L1187.2 76.7L1188.3 76.9L1189.4 77.1L1190.5 77.3L1191.6 77.4L1192.7 77.6L1193.8 77.8L1194.9 77.9L1196 78.1L1197 78.2L1198.1 78.3L1199.2 78.4L1200.3 78.5L1201.4 78.5L1202.5 78.6L1203.6 78.6L1204.7 78.6L1205.8 78.6L1206.9 78.5L1208 78.5L1209 78.4L1210.1 78.3L1211.2 78.1L1212.3 78L1213.4 77.9L1214.5 77.7L1215.6 77.5L1216.7 77.4L1217.8 77.2L1218.9 77L1220 76.8L1221 76.6L1222.1 76.4L1223.2 76.3L1224.3 76.1L1225.4 76L1226.5 75.8L1227.6 75.7L1228.7 75.6L1229.8 75.5L1230.9 75.5L1232 75.4L1233 75.4L1234.1 75.4L1235.2 75.4L1236.3 75.5L1237.4 75.5L1238.5 75.6L1239.6 75.7L1240.7 75.8L1241.8 75.9L1242.9 76.1L1244 76.2L1245 76.4L1246.1 76.6L1247.2 76.8L1248.3 76.9L1249.4 77.1L1250.5 77.3L1251.6 77.5L1252.7 77.7L1253.8 77.8L1254.9 78L1256 78.1L1257 78.2L1258.1 78.3L1259.2 78.4L1260.3 78.5L1261.4 78.6L1262.5 78.6L1263.6 78.6L1264.7 78.6L1265.8 78.6L1266.9 78.5L1268 78.4L1269 78.3L1270.1 78.2L1271.2 78.1L1272.3 78L1273.4 77.8L1274.5 77.7L1275.6 77.5L1276.7 77.3L1277.8 77.1L1278.9 76.9L1280 76.8L1281 76.6L1282.1 76.4L1283.2 76.2L1284.3 76.1L1285.4 75.9L1286.5 75.8L1287.7 75.7L1288.5 75.6L1289.7 75.5L1290.5 75.5" fill="none" stroke="#008000" stroke-width="4.4" stroke-linecap="round" stroke-dasharray="0 7.89"/>
<path d="M87.3 616.5L87.6 615.4L88.1 614.2L88.6 613.3L89.2 612.3L89.9 611.2L90.6 610.2L91.3 609.2L92.1 608.4L92.9 607.5L93.8 606.8L94.8 606L95.7 605.4L96.7 604.7L97.6 604.1L98.5 603.6L99.7 603L100.6 602.5L101.4 602.2M115.7 598.5L117 598.2L117.5 598.1M131.3 594.4L132.6 593.9L133.6 593.5L134.5 593L135.5 592.4L136.4 591.7L137.4 590.8L138.1 590.1L138.8 589.3L139.5 588.4L140.2 587.5L140.9 586.5L141.6 585.5L142.2 584.5L142.9 583.4L143.6 582.4L143.7 582.3M152.2 570.2L153 569.2L153.4 568.8M164.2 556.9L165.4 556.1L166.4 555.6L167.4 555.1L168.5 554.6L169.5 554.2L170.6 553.8L171.7 553.4L172.9 553L173.9 552.6L175.1 552.3L176.2 552L177.4 551.8L178.5 551.5L179.7 551.2L180.9 551L182 550.7L182.3 550.6M194.1 545.2L195.1 544.5L195.6 544.1M206.1 533.1L206.9 532.1L207.6 531.1L208.3 530.2L209.1 529.1L209.8 528.1L210.6 527.1L211.3 526L212 525L212.7 524L213.5 523L214.1 522L214.8 521.1L215.3 520.5M223.9 510.2L224.9 509.4L225.3 509M238.1 501.1L239.3 500.5L240.4 500L241.5 499.4L242.7 498.9L243.8 498.4L245 497.8L246.2 497.3L247.3 496.8L248.4 496.2L249.5 495.7L250.6 495.1L251.6 494.5L251.7 494.5M262.3 484.2L263.2 483.2L263.5 482.8M271.5 471.1L272.2 470.1L272.9 469.1L273.6 468.1L274.3 467.1L275 466.1L275.7 465L276.4 464L277.1 462.9L277.9 461.9L278.6 460.9L279.3 459.9L280 458.9L280.2 458.7M291.2 445.9L292.2 445L292.6 444.7M304.2 436.3L305 435.5L305.8 434.6L306.6 433.7L307.4 432.8L308.3 431.8L309.1 430.8L309.9 429.8L310.7 428.8L311.5 427.8L312.3 426.8L313.1 425.8L313.8 424.9L314.6 423.9L315.2 423L315.9 422.2L315.9 422.1M323.1 410.5L323.7 409.4L323.9 409M330 396.8L330.5 395.9L331.1 394.9L331.6 393.9L332.3 392.9L332.9 391.8L333.5 390.7L334.2 389.6L334.9 388.5L335.5 387.4L336.2 386.3L336.8 385.2L337.4 384.1L338 383.1L338.3 382.5M344.5 368.9L345.2 367.8L345.5 367.4M356.1 358.1L357.1 357.3L358 356.5L358.9 355.7L359.9 354.9L360.8 354.1L361.8 353.2L362.8 352.4L363.8 351.5L364.7 350.7L365.7 349.8L366.6 349L367.5 348.2L368.3 347.4L368.7 347M377.1 334.6L377.8 333.5L378.1 333M386.2 320.4L386.9 319.4L387.6 318.4L388.3 317.4L389 316.4L389.7 315.4L390.4 314.4L391.1 313.6L391.9 312.7L392.7 312L393.5 311.2L394.5 310.6L395.6 310L396.7 309.5L397.7 309.1L398.9 308.7L400 308.3L400.3 308.2M412.8 301.9L413.8 301.1L414.2 300.7M424.6 289.6L425.4 288.5L426.1 287.6L426.9 286.6L427.7 285.6L428.4 284.6L429.2 283.5L430 282.5L430.8 281.5L431.5 280.5L432.3 279.5L433.1 278.6L433.8 277.7L434.1 277.2M445.3 267.5L446.4 266.8L446.9 266.5M459.2 260.1L460.2 259.3L461.2 258.6L462.1 257.9L463.1 257.1L464.1 256.4L465.1 255.6L466.1 254.7L467.1 253.9L468.1 253.1L469.1 252.3L470 251.5L470.9 250.7L471.6 250.1M482.1 239L483.1 238.1L483.5 237.8M495.8 228.9L497.1 228.3L498.2 227.7L499.3 227.1L500.4 226.5L501.6 225.9L502.8 225.4L504 224.8L505.1 224.2L506.3 223.6L507.4 223.1L508.4 222.5L509.4 222L509.8 221.8M520.3 213.7L521.2 212.8L521.6 212.4M533.2 201.4L534.1 200.9L535.2 200.2L536.3 199.6L537.5 199L538.6 198.4L539.8 197.7L541 197.1L542.2 196.5L543.4 195.9L544.6 195.3L545.7 194.7L546.8 194.1L547.9 193.6L548.4 193.3M558.3 186.9L559.3 186.2L559.7 185.8M570.5 177.8L571.5 177.3L572.5 176.8L573.6 176.3L574.8 175.8L575.9 175.3L577.1 174.8L578.3 174.2L579.5 173.7L580.7 173.2L581.9 172.7L583 172.2L584.1 171.6L585.2 171.1L586.2 170.7L586.2 170.6M597.7 162.7L598.7 162L599.1 161.7M612 153.2L613.3 152.6L614.5 152.1L615.7 151.7L616.8 151.2L618 150.8L619.1 150.5L620.2 150.1L621.3 149.8L622.5 149.4L623.5 149.1L624.7 148.8L625.7 148.7L627.1 148.5L627.6 148.4M639.8 143.4L641 142.9L641.4 142.7M655.9 138.2L656.8 137.9L658 137.6L659.2 137.2L660.4 136.9L661.6 136.5L662.8 136.2L664.1 135.8L665.3 135.4L666.6 135L667.8 134.7L669.1 134.3L670.3 134L671.5 133.6L672.8 133.3L673.5 133M686.8 129.3L688.1 129L688.6 128.9M702.7 125.1L703.8 124.8L705 124.4L706.1 124.1L707.3 123.8L708.4 123.5L709.6 123.2L710.7 122.9L711.9 122.6L713 122.3L714.2 122L715.3 121.7L716.5 121.4L717.6 121L718.8 120.7L719.9 120.4M734 116.5L735.2 116.1L735.7 116M749.8 112L750.9 111.7L752.1 111.4L753.2 111.1L754.4 110.7L755.5 110.4L756.7 110.1L757.8 109.8L759 109.5L760.1 109.2L761.3 108.9L762.4 108.6L763.6 108.3L764.7 108L765.9 107.7L767 107.4L768.2 107.1M781.1 103.6L782.3 103.3L782.8 103.2M797.3 99.4L798.4 99.1L799.6 98.8L800.8 98.5L801.9 98.2L803.1 97.9L804.2 97.6L805.4 97.3L806.6 97L807.7 96.7L808.9 96.4L810.1 96.1L811.2 95.8L812.4 95.5L813.5 95.2L813.9 95.1M828.1 91.6L829.4 91.3L829.8 91.1M843.2 87.8L844.3 87.6L845.5 87.3L846.6 87L847.8 86.8L848.9 86.5L850.1 86.2L851.3 86L852.5 85.7L853.7 85.4L854.9 85.2L856.1 84.9L857.4 84.7L858.6 84.4L859.8 84.2L861.1 83.9L861.9 83.7M876.8 77.4L878.6 77.3M892.5 77.2L893.5 77.2L894.7 77.2L895.8 77.2L897 77.1L898.2 77.1L899.5 77.1L900.5 77.1L901.5 77.1L902.6 77.1L903.6 77.1L904.7 77.1L905.8 77.1L906.9 77.1L908.1 77.1L909.2 77.1L909.8 77.1M923.2 77L924.5 77L925.5 77L926.5 77L927.5 77L928.5 77L929.6 77L930.6 77L931.7 77L932.7 77L933.8 77L934.9 77L936 77L937 77L938.1 77L939.2 77L940.3 77L941.5 77L942.6 77L943.7 77L944.9 77L946 77L947.1 76.9L948.3 76.9L949 76.9M961.8 76.9L963.1 76.9L963.6 76.9M977.3 76.9L978.3 76.9L979.6 76.9L980.9 76.9L982.2 76.9L983.5 76.9L984.8 76.9L986.1 76.9L987.5 76.9L988.8 76.9L990.1 76.9L991.5 76.9L992.8 76.9L994.2 76.9L995.5 76.9L995.8 76.9M1009.8 76.9L1011.2 76.9L1011.6 76.9M1024.9 76.9L1026.3 76.9L1027.7 76.9L1029.1 76.9L1030.6 76.9L1032 76.9L1033.5 76.9L1034.9 76.9L1036.4 76.9L1037.8 76.9L1039.3 76.9L1040.7 76.9L1042.2 76.9L1043.6 76.9M1057.4 76.9L1058.8 76.9L1059.2 76.9M1073.2 76.9L1074.6 76.9L1076.1 76.9L1077.6 76.9L1079.1 76.9L1080.6 76.9L1082.1 76.9L1083.6 76.9L1085.1 76.9L1086.6 76.9L1088.1 76.9L1089.6 76.9L1091.1 76.9L1092 76.9M1105.1 77L1106.5 77L1106.9 77M1121.3 77L1122.8 77L1124.3 77L1125.7 77L1127.2 77L1128.7 77L1130.2 77L1131.6 77L1133.1 77L1134.6 77L1136 77L1137.5 77L1138.9 77L1139.9 77M1153 77L1154.4 77L1154.8 77M1169.2 77L1170.4 77L1171.8 77L1173.2 77L1174.6 77L1176 77.1L1177.4 77.1L1178.8 77.1L1180.2 77.1L1181.5 77.1L1182.9 77.1L1184.3 77.1L1185.6 77.1L1187 77.1L1188.3 77.1L1189.7 77.1L1189.9 77.1M1200.7 77.1L1202 77.1L1202.5 77.1M1217.2 77.1L1218.5 77.1L1219.8 77.1L1221 77.1L1222.2 77.1L1223.4 77.1L1224.6 77.1L1225.8 77.1L1227 77.1L1228.2 77.1L1229.4 77.1L1230.6 77.1L1231.7 77.1L1232.9 77.1L1234.1 77.1L1235.1 77.1M1248.7 77.2L1249.9 77.2L1250.5 77.2M1264.7 77.2L1265.8 77.2L1267 77.2L1268.2 77.2L1269.4 77.2L1270.6 77.2L1271.8 77.2L1273 77.2L1274.1 77.2L1275.2 77.2L1276.3 77.2L1277.4 77.2L1278.5 77.2L1279.5 77.2L1280.6 77.2L1281.6 77.2L1282.6 77.2L1283.8 77.2L1284 77.2" fill="none" stroke="#f0f" stroke-width="4.1" stroke-linecap="round" stroke-linejoin="round"/>
<line x1="354.7" y1="618.5" x2="354.7" y2="23" stroke="#00f" stroke-width="2.9" stroke-linecap="round" stroke-dasharray="11.8 14.99"/>
<line x1="622.7" y1="618.5" x2="622.7" y2="23" stroke="#00f" stroke-width="2.9" stroke-linecap="round" stroke-dasharray="11.8 14.99"/>
<line x1="890.7" y1="618.5" x2="890.7" y2="23" stroke="#00f" stroke-width="2.9" stroke-linecap="round" stroke-dasharray="11.8 14.99"/>
<g stroke="#000" stroke-width="2.9" fill="none">
<line x1="86.7" y1="618.5" x2="1294" y2="618.5"/>
<line x1="86.7" y1="619.8" x2="86.7" y2="21.7"/>
<line x1="73.1" y1="618.5" x2="86.7" y2="618.5"/>
<line x1="80.1" y1="564.4" x2="86.7" y2="564.4"/>
<line x1="80.1" y1="510.2" x2="86.7" y2="510.2"/>
<line x1="80.1" y1="456.1" x2="86.7" y2="456.1"/>
<line x1="80.1" y1="401.9" x2="86.7" y2="401.9"/>
<line x1="73.1" y1="347.8" x2="86.7" y2="347.8"/>
<line x1="80.1" y1="293.7" x2="86.7" y2="293.7"/>
<line x1="80.1" y1="239.5" x2="86.7" y2="239.5"/>
<line x1="80.1" y1="185.4" x2="86.7" y2="185.4"/>
<line x1="80.1" y1="131.2" x2="86.7" y2="131.2"/>
<line x1="73.1" y1="77.1" x2="86.7" y2="77.1"/>
<line x1="80.1" y1="23" x2="86.7" y2="23"/>
<line x1="86.7" y1="618.5" x2="86.7" y2="631.9"/>
<line x1="153.7" y1="618.5" x2="153.7" y2="625.5"/>
<line x1="220.7" y1="618.5" x2="220.7" y2="631.9"/>
<line x1="287.7" y1="618.5" x2="287.7" y2="625.5"/>
<line x1="354.7" y1="618.5" x2="354.7" y2="631.9"/>
<line x1="421.7" y1="618.5" x2="421.7" y2="625.5"/>
<line x1="488.7" y1="618.5" x2="488.7" y2="631.9"/>
<line x1="555.7" y1="618.5" x2="555.7" y2="625.5"/>
<line x1="622.7" y1="618.5" x2="622.7" y2="631.9"/>
<line x1="689.7" y1="618.5" x2="689.7" y2="625.5"/>
<line x1="756.7" y1="618.5" x2="756.7" y2="631.9"/>
<line x1="823.7" y1="618.5" x2="823.7" y2="625.5"/>
<line x1="890.7" y1="618.5" x2="890.7" y2="631.9"/>
<line x1="957.7" y1="618.5" x2="957.7" y2="625.5"/>
<line x1="1024.7" y1="618.5" x2="1024.7" y2="631.9"/>
<line x1="1091.7" y1="618.5" x2="1091.7" y2="625.5"/>
<line x1="1158.7" y1="618.5" x2="1158.7" y2="631.9"/>
<line x1="1225.7" y1="618.5" x2="1225.7" y2="625.5"/>
<line x1="1292.7" y1="618.5" x2="1292.7" y2="631.9"/>
</g>
<g font-family="Liberation Sans, Arial, sans-serif" font-size="35" fill="#000" text-anchor="middle">
<text x="86.7" y="668.6">-5</text>
<text x="220.7" y="668.6">-4</text>
<text x="354.7" y="668.6">-3</text>
<text x="488.7" y="668.6">-2</text>
<text x="623.6" y="668.6" clip-path="url(#c0)">-1</text>
<text x="756.7" y="668.6">0</text>
<text x="891.6" y="668.6" clip-path="url(#c1)">1</text>
<text x="1024.7" y="668.6">2</text>
<text x="1158.7" y="668.6">3</text>
<text x="1292.7" y="668.6">4</text>
</g>
<g font-family="Liberation Sans, Arial, sans-serif" font-size="35" fill="#000" text-anchor="end">
<text x="63.5" y="629">0</text>
<text x="65.3" y="358.2" clip-path="url(#c2)">1</text>
<text x="63.5" y="87.6">2</text>
</g>
<defs><clipPath id="c0"><rect x="609.7" y="628.6" width="40" height="36.7"/><rect x="628.5" y="664.4" width="3.1" height="6"/></clipPath><clipPath id="c1"><rect x="871.9" y="628.6" width="40" height="36.7"/><rect x="890.7" y="664.4" width="3.1" height="6"/></clipPath><clipPath id="c2"><rect x="35.8" y="318.2" width="40" height="36.7"/><rect x="54.7" y="354.1" width="3.1" height="6"/></clipPath></defs>
<g font-family="Liberation Sans, Arial, sans-serif" font-size="40" fill="#00f" text-anchor="middle">
<text x="218" y="28.9">D</text>
<text x="482.1" y="28.9">TC</text>
<text x="751.5" y="28.9">N</text>
<text x="1103.7" y="28.9">S</text>
</g>
<g font-family="Liberation Serif, Times New Roman, serif" fill="#000" stroke="#fff" stroke-width="0.5">
<text x="2" y="214.6" font-size="41" font-style="italic">ρ</text>
<line x1="0" y1="190.5" x2="20.8" y2="190.5" stroke="#000" stroke-width="2"/>
<text transform="translate(1149.8 713.2) scale(1.17 1)" font-size="42" font-style="italic">E</text>
<text x="1182.6" y="722.6" font-size="62">/</text>
<text x="1209.4" y="713.8" font-size="46">(</text>
<text x="1222.7" y="713.7" font-size="40" font-style="italic">ω</text>
<text transform="translate(1248.9 719.8) scale(1.12 1)" font-size="29">0</text>
<text x="1269" y="713.6" font-size="42" font-style="italic">j</text>
<text x="1286.3" y="714.1" font-size="46">)</text>
</g>
<g fill="none" stroke-linecap="round">
<line x1="950" y1="399.6" x2="1038" y2="399.6" stroke="#000" stroke-width="5.6"/>
<line x1="950" y1="447.8" x2="1038" y2="447.8" stroke="#f00" stroke-width="3.8" stroke-dasharray="16.2 22.4"/>
<line x1="950" y1="496.3" x2="1038" y2="496.3" stroke="#008000" stroke-width="4.4" stroke-dasharray="0 7.89"/>
<line x1="950" y1="544.3" x2="1038" y2="544.3" stroke="#f0f" stroke-width="4" stroke-dasharray="20 13.7 0.8 13.5"/>
</g>
<g font-family="Liberation Serif, Times New Roman, serif" font-size="39.5" fill="#000" stroke="#fff" stroke-width="0.5">
<text x="1047.2" y="412.1">semiclassical</text>
<text transform="translate(1049.4 459.2) scale(1.13 1)" font-style="italic">N</text>
<text transform="translate(1092.5 464.1) scale(1.42 1)">=</text>
<text x="1132.4" y="459.5">10</text>
<text transform="translate(1049.4 508.2) scale(1.13 1)" font-style="italic">N</text>
<text transform="translate(1092.5 513.1) scale(1.42 1)">=</text>
<text x="1133.4" y="508.5">20</text>
<text transform="translate(1049.4 556.7) scale(1.13 1)" font-style="italic">N</text>
<text transform="translate(1092.5 561.6) scale(1.42 1)">=</text>
<text x="1134.4" y="557">40</text>
</g>
</svg>
</body></html>
